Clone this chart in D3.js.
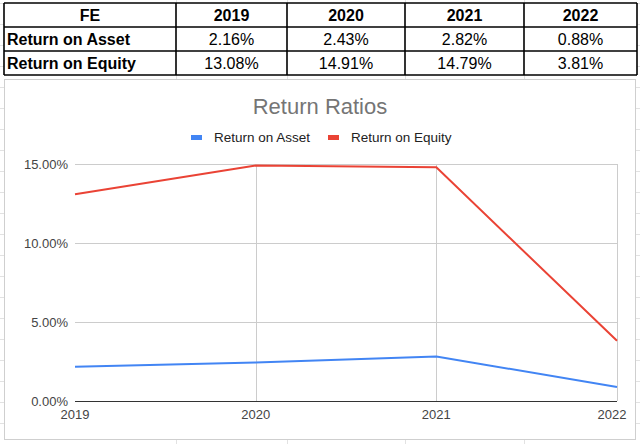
<!DOCTYPE html>
<html>
<head>
<meta charset="utf-8">
<script src="https://cdn.jsdelivr.net/npm/d3@7"></script>
<style>
  body { margin: 0; background: #fff; }
  svg { display: block; font-family: "Liberation Sans", Arial, sans-serif; }
</style>
</head>
<body>
<div id="chart"></div>
<script>
// Data
var years = ["2019", "2020", "2021", "2022"];
var roa = [2.16, 2.43, 2.82, 0.88];
var roe = [13.08, 14.91, 14.79, 3.81];
var seriesNames = ["Return on Asset", "Return on Equity"];
var yTicks = [0, 5, 10, 15];
var tableHead = "FE";

var W = 640, H = 444;
var svg = d3.select("#chart").append("svg")
    .attr("width", W)
    .attr("height", H);

// spreadsheet background grid
var sheetRows = d3.range(3, H, 21);
svg.selectAll("line.sheet")
    .data(sheetRows)
    .enter().append("line")
    .attr("x1", 0).attr("x2", W)
    .attr("y1", function (d) { return d + 0.5; })
    .attr("y2", function (d) { return d + 0.5; })
    .attr("stroke", "#e2e2e2");
[176, 287, 405, 524].forEach(function (x) {
    svg.append("line").attr("x1", x + 0.5).attr("x2", x + 0.5)
        .attr("y1", 0).attr("y2", H).attr("stroke", "#e2e2e2");
});

// ---- Table ----
var colX = [4, 176, 287, 405, 524, 637];
var rowY = [3, 27, 51, 75];
var rows = [
    [tableHead].concat(years),
    [seriesNames[0]].concat(roa.map(function (v) { return v.toFixed(2) + "%"; })),
    [seriesNames[1]].concat(roe.map(function (v) { return v.toFixed(2) + "%"; }))
];
var tbl = svg.append("g");
tbl.append("rect")
    .attr("x", colX[0]).attr("y", rowY[0])
    .attr("width", colX[5] - colX[0]).attr("height", rowY[3] - rowY[0])
    .attr("fill", "#fff");
rows.forEach(function (r, i) {
    r.forEach(function (cell, j) {
        var t = tbl.append("text")
            .attr("y", (rowY[i] + rowY[i + 1]) / 2 + 6)
            .attr("font-size", 16)
            .attr("fill", "#000")
            .text(cell);
        if (i === 0) t.attr("font-weight", "bold");
        if (j === 0 && i > 0) {
            t.attr("x", colX[0] + 3).attr("font-weight", "bold");
        } else {
            t.attr("x", (colX[j] + colX[j + 1]) / 2).attr("text-anchor", "middle");
        }
    });
});
colX.forEach(function (x) {
    tbl.append("line").attr("x1", x).attr("x2", x)
        .attr("y1", rowY[0]).attr("y2", rowY[3])
        .attr("stroke", "#000").attr("stroke-width", 1.6);
});
rowY.forEach(function (y) {
    tbl.append("line").attr("x1", colX[0]).attr("x2", colX[5])
        .attr("y1", y).attr("y2", y)
        .attr("stroke", "#000").attr("stroke-width", 1.6);
});

// ---- Chart box ----
svg.append("rect")
    .attr("x", 4.5).attr("y", 79.5)
    .attr("width", 631).attr("height", 360)
    .attr("fill", "#fff")
    .attr("stroke", "#cfcfcf");

var x = d3.scalePoint().domain(years).range([75, 617]);
var y = d3.scaleLinear().domain([0, 15]).range([401, 164]);

// gridlines
svg.selectAll("line.hgrid")
    .data(yTicks.slice(1))
    .enter().append("line")
    .attr("x1", 75).attr("x2", 617)
    .attr("y1", function (d) { return Math.round(y(d)) + 0.5; })
    .attr("y2", function (d) { return Math.round(y(d)) + 0.5; })
    .attr("stroke", "#cccccc");
svg.selectAll("line.vgrid")
    .data(years.slice(1))
    .enter().append("line")
    .attr("x1", function (d) { return Math.round(x(d)) + 0.5; })
    .attr("x2", function (d) { return Math.round(x(d)) + 0.5; })
    .attr("y1", 164).attr("y2", 401)
    .attr("stroke", "#cccccc");

// y labels
svg.selectAll("text.ylab")
    .data(yTicks)
    .enter().append("text")
    .attr("x", 68)
    .attr("y", function (d) { return y(d) + 5; })
    .attr("text-anchor", "end")
    .attr("font-size", 13)
    .attr("fill", "#444")
    .text(function (d) { return d.toFixed(2) + "%"; });

// x labels
svg.selectAll("text.xlab")
    .data(years)
    .enter().append("text")
    .attr("x", function (d, i) { return i === years.length - 1 ? x(d) - 5 : x(d); })
    .attr("y", 419)
    .attr("text-anchor", "middle")
    .attr("font-size", 13)
    .attr("fill", "#444")
    .text(function (d) { return d; });

// lines
var line = d3.line()
    .x(function (d, i) { return x(years[i]); })
    .y(function (d) { return y(d); });
var colors = ["#4285f4", "#ea4335"];
[roa, roe].forEach(function (s, k) {
    svg.append("path")
        .datum(s)
        .attr("d", line)
        .attr("fill", "none")
        .attr("stroke", colors[k])
        .attr("stroke-width", 2);
});

// baseline
svg.append("line")
    .attr("x1", 75).attr("x2", 617)
    .attr("y1", 401.5).attr("y2", 401.5)
    .attr("stroke", "#333");

// title
svg.append("text")
    .attr("x", 320).attr("y", 114)
    .attr("text-anchor", "middle")
    .attr("font-size", 22)
    .attr("fill", "#757575")
    .text("Return Ratios");

// legend
var legX = [191, 328];
seriesNames.forEach(function (n, k) {
    svg.append("rect")
        .attr("x", legX[k]).attr("y", 135)
        .attr("width", 11).attr("height", 5)
        .attr("fill", colors[k]);
    svg.append("text")
        .attr("x", legX[k] + 23).attr("y", 142)
        .attr("font-size", 13.5)
        .attr("fill", "#222")
        .text(n);
});
</script>
</body>
</html>
